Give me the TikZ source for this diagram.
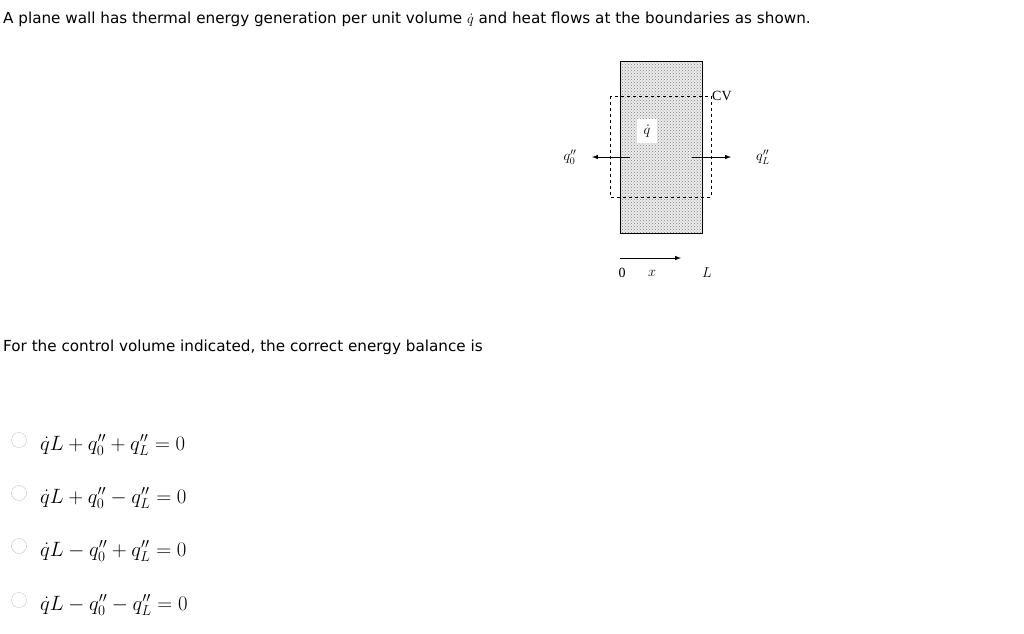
\documentclass[tikz,border=0pt]{standalone}
\usepackage{fontspec}
\setsansfont{DejaVu Sans}
\setmainfont{Liberation Serif}
\usetikzlibrary{patterns}
\begin{document}
\begin{tikzpicture}[x=1pt,y=-1pt,
  txt/.style={anchor=west,inner sep=0pt,font=\sffamily\fontsize{15.2}{17}\selectfont},
  eq/.style={anchor=west,inner sep=0pt,font=\fontsize{21.5}{24}\selectfont},
  radio/.style={circle,draw=gray!50,minimum size=15pt,inner sep=0pt},
  arr/.style={-latex,line width=1pt},
  lab/.style={inner sep=0pt,font=\fontsize{14}{16}\selectfont}]
\useasboundingbox (0,0) rectangle (1024,633);
\node[txt] (t1) at (3,19) {A plane wall has thermal energy generation per unit volume $\dot q$ and heat flows at the boundaries as shown.};
\node[txt] (t2) at (3,347) {For the control volume indicated, the correct energy balance is};
% wall
\fill[gray!15] (620,61) rectangle (702,233);
\fill[pattern=crosshatch dots,pattern color=gray] (620,61) rectangle (702,233);
\draw[line width=1pt] (620,61) rectangle (702,233);
\draw[dashed] (610,96) rectangle (711,197);
\node[fill=white,minimum width=20pt,minimum height=24pt,inner sep=0pt] (qd) at (647,131) {};
\node[lab] at (647,131) {$\dot q$};
\coordinate (la) at (630,157); \coordinate (la2) at (592,157);
\coordinate (ra) at (692,157); \coordinate (ra2) at (731,157);
\node[lab] (q0) at (570,157) {$q''_0$};
\node[lab] (qL) at (763,157) {$q''_L$};
\draw[arr] (la) -- (la2);
\draw[arr] (ra) -- (ra2);
\node[lab,anchor=west] (cv) at (712,96) {CV};
\coordinate (b1) at (620,258); \coordinate (b2) at (681,258);
\draw[arr] (b1) -- (b2);
\node[lab] (n0) at (622,273) {0};
\node[lab] (nx) at (652,273) {$x$};
\node[lab] (nL) at (707,273) {$L$};
% options
\foreach \y/\e in {445/{\dot qL+q''_0+q''_L=0},498/{\dot qL+q''_0-q''_L=0},551/{\dot qL-q''_0+q''_L=0},605/{\dot qL-q''_0-q''_L=0}}{
  \node[radio] at (19,\y-5) {};
  \node[eq] at (40,\y) {$\e$};
}
\end{tikzpicture}
\end{document}
